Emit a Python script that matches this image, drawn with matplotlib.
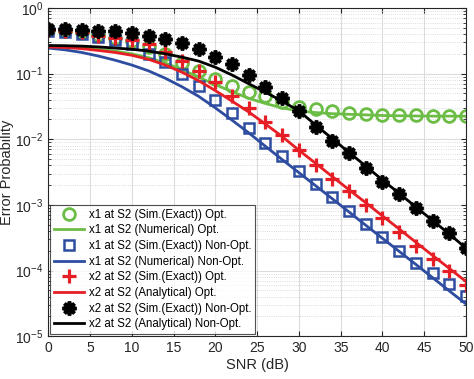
import matplotlib.pyplot as plt
import numpy as np

plt.rcParams['font.family'] = ['Liberation Sans', 'DejaVu Sans']

# SNR grid (dB), markers and curves sampled every 2 dB
snr = np.arange(0, 51, 2)

# x1 at S2, optimal power allocation
x1_sim_opt = [0.46, 0.45, 0.43, 0.39, 0.35, 0.31, 0.25, 0.20, 0.145, 0.11, 0.083, 0.064, 0.053,
              0.045, 0.037, 0.031, 0.029, 0.027, 0.025, 0.024, 0.0235, 0.023, 0.023, 0.0228,
              0.0226, 0.0225]
x1_num_opt = [0.26, 0.255, 0.245, 0.235, 0.22, 0.2, 0.175, 0.145, 0.115, 0.088, 0.068, 0.053,
              0.042, 0.035, 0.03, 0.027, 0.0255, 0.0245, 0.024, 0.0235, 0.023, 0.0228, 0.0226,
              0.0225, 0.0225, 0.0224]

# x1 at S2, non-optimal
x1_sim_nonopt = [0.45, 0.43, 0.40, 0.365, 0.32, 0.28, 0.20, 0.15, 0.10, 0.065, 0.04, 0.025,
                 0.0147, 0.0089, 0.0055, 0.0033, 0.0021, 0.0013, 0.00081, 0.00052, 0.00032,
                 0.0002, 0.00013, 9.1e-5, 6.3e-5, 4.1e-5]
x1_num_nonopt = [0.245, 0.23, 0.21, 0.185, 0.16, 0.135, 0.11, 0.085, 0.063, 0.045, 0.030,
                 0.0195, 0.0125, 0.0078, 0.0049, 0.0031, 0.00196, 0.00124, 0.00078, 0.00049,
                 0.00031, 0.000196, 0.000124, 7.8e-5, 4.9e-5, 3.1e-5]

# x2 at S2, optimal
x2_sim_opt = [0.46, 0.45, 0.43, 0.38, 0.35, 0.32, 0.28, 0.215, 0.155, 0.11, 0.075, 0.046, 0.03,
              0.0186, 0.0118, 0.0068, 0.0041, 0.0025, 0.0016, 0.001, 0.00063, 0.00039, 0.00024,
              0.00015, 0.0001, 6e-5]
x2_ana_opt = [0.255, 0.25, 0.24, 0.225, 0.21, 0.19, 0.165, 0.135, 0.105, 0.078, 0.055, 0.038,
              0.026, 0.017, 0.011, 0.0068, 0.0043, 0.0027, 0.0017, 0.00108, 0.00068, 0.00043,
              0.00027, 0.00017, 0.000108, 6.8e-5]

# x2 at S2, non-optimal
x2_sim_nonopt = [0.48, 0.47, 0.46, 0.45, 0.44, 0.41, 0.375, 0.335, 0.29, 0.237, 0.18, 0.14,
                 0.095, 0.063, 0.042, 0.027, 0.0155, 0.0094, 0.0062, 0.0037, 0.0022, 0.00145,
                 0.00089, 0.00056, 0.00037, 0.00022]
x2_ana_nonopt = [0.268, 0.266, 0.262, 0.255, 0.245, 0.235, 0.22, 0.2, 0.178, 0.155, 0.125,
                 0.095, 0.07, 0.052, 0.038, 0.027, 0.0165, 0.0102, 0.0063, 0.0039, 0.0024,
                 0.0015, 0.00093, 0.00058, 0.00036, 0.00022]

green = '#6cbd45'
blue = '#2e4da0'
red = '#e61e25'

fig = plt.figure(figsize=(4.74, 3.79), dpi=100)
ax = fig.add_axes([0.102, 0.113, 0.881, 0.866])

ax.plot(snr, x1_sim_opt, 'o', mfc='none', mec=green, ms=8.5, mew=2,
        label='x1 at S2 (Sim.(Exact)) Opt.')
ax.plot(snr, x1_num_opt, '-', color=green, lw=2, label='x1 at S2 (Numerical) Opt.')
ax.plot(snr, x1_sim_nonopt, 's', mfc='none', mec=blue, ms=7.5, mew=1.8,
        label='x1 at S2 (Sim.(Exact)) Non-Opt.')
ax.plot(snr, x1_num_nonopt, '-', color=blue, lw=2, label='x1 at S2 (Numerical) Non-Opt.')
ax.plot(snr, x2_sim_opt, '+', color=red, ms=10.5, mew=2.3,
        label='x2 at S2 (Sim.(Exact)) Opt.')
ax.plot(snr, x2_ana_opt, '-', color=red, lw=2, label='x2 at S2 (Analytical) Opt.')
ax.plot(snr, x2_sim_nonopt, linestyle='none', marker=(8, 2, 0), color='black', ms=10, mew=2.6,
        label='x2 at S2 (Sim.(Exact)) Non-Opt.')
ax.plot(snr, x2_ana_nonopt, '-', color='black', lw=2, label='x2 at S2 (Analytical) Non-Opt.')

ax.set_yscale('log')
ax.set_xlim(0, 50)
ax.set_ylim(1e-5, 1)
ax.set_xticks(np.arange(0, 51, 5))
ax.set_xlabel('SNR (dB)', fontsize=10.5, color='#262626', labelpad=2)
ax.set_ylabel('Error Probability', fontsize=10.5, color='#262626', labelpad=1)
ax.tick_params(which='both', direction='in', top=True, right=True, labelsize=10,
               colors='#262626')
ax.grid(which='major', color='#dcdcdc', lw=0.8)
ax.grid(which='minor', axis='y', color='#d0d0d0', lw=0.6, linestyle=':')
for s in ax.spines.values():
    s.set_color('#262626')
    s.set_linewidth(0.8)

leg = ax.legend(loc='lower left', fontsize=8.3, frameon=True, fancybox=False,
                edgecolor='#262626', borderaxespad=0.15, handlelength=2.6,
                labelspacing=0.32, handletextpad=0.4, borderpad=0.35)
leg.get_frame().set_linewidth(0.8)

fig.savefig('out.png', dpi=100)
